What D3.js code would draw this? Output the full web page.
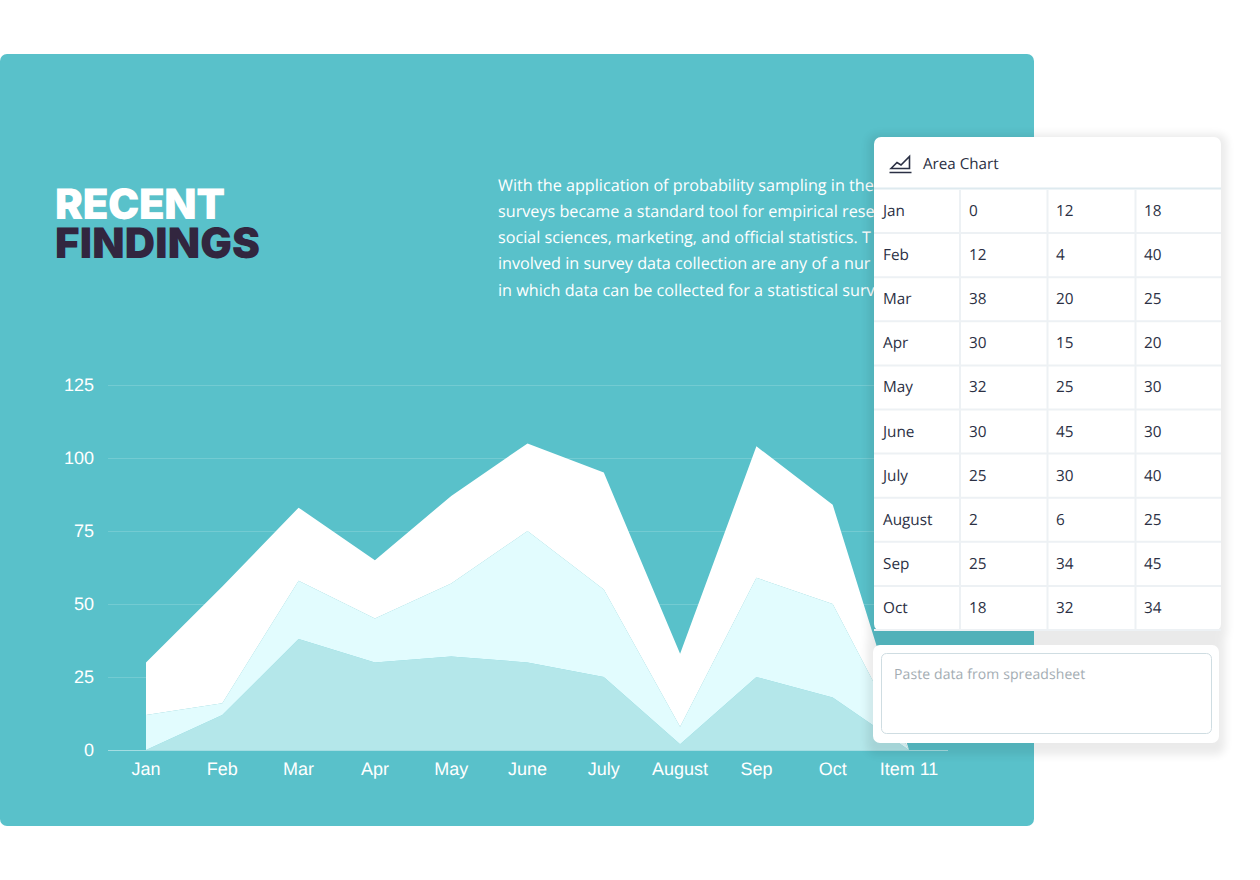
<!DOCTYPE html>
<html><head><meta charset="utf-8">
<script src="https://cdnjs.cloudflare.com/ajax/libs/d3/7.8.5/d3.min.js"></script>
<style>html,body{margin:0;padding:0;background:#fff}svg{display:block}text{text-rendering:geometricPrecision}</style>
</head><body><div id="c"></div>
<script>
const categories=["Jan","Feb","Mar","Apr","May","June","July","August","Sep","Oct","Item 11"];
const seriesA=[0,12,38,30,32,30,25,2,25,18,0];
const seriesB=[12,4,20,15,25,45,30,6,34,32,0];
const seriesC=[18,40,25,20,30,30,40,25,45,34,0];
const yTicks=[0,25,50,75,100,125];
const tableRows=10;
const paragraph=["With the application of probability sampling in the","surveys became a standard tool for empirical rese","social sciences, marketing, and official statistics. T","involved in survey data collection are any of a nur","in which data can be collected for a statistical surv"];
const titleLines=["RECENT","FINDINGS"];
const panelTitle="Area Chart";
const placeholder="Paste data from spreadsheet";

const TEAL="#59c1ca",NAVY="#32263f",INK="#2b3044";
const svg=d3.select("#c").append("svg").attr("width",1260).attr("height",880);
const defs=svg.append("defs");
defs.append("filter").attr("id","sh").attr("x","-20%").attr("y","-20%").attr("width","140%").attr("height","140%")
 .append("feGaussianBlur").attr("stdDeviation",4);

svg.append("rect").attr("x",0).attr("y",54).attr("width",1034).attr("height",772).attr("rx",7).attr("fill",TEAL);

svg.append("g").selectAll("text").data(titleLines).join("text")
 .attr("x",55).attr("y",(d,i)=>219+i*39).text(d=>d)
 .attr("font-family","Inter").attr("font-weight",900).attr("font-size",42)
 .attr("letter-spacing",(d,i)=>i?.2:-.4)
 .attr("fill",(d,i)=>i?NAVY:"#fff");

svg.append("g").selectAll("text").data(paragraph).join("text")
 .attr("x",498).attr("y",(d,i)=>190.5+i*26.3).text(d=>d)
 .attr("font-family","Open Sans").attr("font-size",16.2).attr("fill","#fff");

// chart
const x=d3.scalePoint().domain(categories).range([146,909]);
const y=d3.scaleLinear().domain([0,125]).range([750,385]);
const g=svg.append("g");
g.selectAll("line.g").data(yTicks).join("line").attr("class","g")
 .attr("x1",108).attr("x2",948).attr("y1",d=>y(d)+.5).attr("y2",d=>y(d)+.5)
 .attr("stroke","#fff").attr("stroke-opacity",d=>d?.16:.45);
g.selectAll("text.y").data(yTicks).join("text").attr("class","y")
 .attr("x",94).attr("y",d=>y(d)+6).attr("text-anchor","end").text(d=>d)
 .attr("font-family","Liberation Sans").attr("font-size",18).attr("fill","#fff");
g.selectAll("text.x").data(categories).join("text").attr("class","x")
 .attr("x",d=>x(d)).attr("y",775).attr("text-anchor","middle").text(d=>d)
 .attr("font-family","Liberation Sans").attr("font-size",18).attr("fill","#fff");
const rows=categories.map((c,i)=>({c,a:seriesA[i],b:seriesB[i],z:seriesC[i]}));
const stacked=d3.stack().keys(["a","b","z"])(rows);
const area=d3.area().x(d=>x(d.data.c)).y0(d=>y(d[0])).y1(d=>y(d[1]));
const fills=["#b4e7ea","#e2fcfe","#ffffff"];
g.selectAll("path.s").data(stacked).join("path").attr("class","s").attr("d",area).attr("fill",(d,i)=>fills[i]);

// shared soft shadow behind both panels
const sh=svg.append("g").attr("opacity",.08).attr("filter","url(#sh)");
sh.append("rect").attr("x",868).attr("y",134).attr("width",359).attr("height",508).attr("rx",9).attr("fill","#000");
sh.append("rect").attr("x",867).attr("y",634).attr("width",358).attr("height",121).attr("rx",9).attr("fill","#000");

// lower panel
const p2=svg.append("g");
p2.append("rect").attr("x",873).attr("y",645).attr("width",346).attr("height",98).attr("rx",7).attr("fill","#fff");
p2.append("rect").attr("x",881.5).attr("y",653.5).attr("width",330).attr("height",80).attr("rx",5).attr("fill","#fff").attr("stroke","#cfdde2");
p2.append("text").attr("x",894).attr("y",679).text(placeholder).attr("font-family","Open Sans").attr("font-size",14).attr("letter-spacing",.1).attr("fill","#a4adb3");

// table panel
const p=svg.append("g");
p.append("rect").attr("x",874).attr("y",137).attr("width",347).attr("height",494).attr("rx",7).attr("fill","#fff");
p.append("path").attr("d","M889.5 172.5H911.5M891 168.5L897 162.5L901 165L909.5 156.5V168.5Z").attr("fill","none").attr("stroke",INK).attr("stroke-width",1.6);
p.append("text").attr("x",923).attr("y",169).text(panelTitle).attr("font-family","Open Sans").attr("font-size",15.2).attr("fill",INK);
p.append("line").attr("x1",874).attr("x2",1221).attr("y1",188.5).attr("y2",188.5).attr("stroke","#deeaef").attr("stroke-width",2);
const rowY=d3.scaleBand().domain(d3.range(tableRows)).range([189,630]);
const colX=[883,969,1056,1144];
const colLines=[960,1047.5,1135.5];
p.selectAll("line.r").data(d3.range(1,tableRows+1)).join("line").attr("class","r")
 .attr("x1",874).attr("x2",1221).attr("y1",d=>189+d*rowY.step()).attr("y2",d=>189+d*rowY.step())
 .attr("stroke","#edf1f4").attr("stroke-width",2);
p.selectAll("line.c").data(colLines).join("line").attr("class","c")
 .attr("x1",d=>d).attr("x2",d=>d).attr("y1",190).attr("y2",631)
 .attr("stroke","#edf1f4").attr("stroke-width",2);
d3.range(tableRows).forEach(i=>{
 [categories[i],seriesA[i],seriesB[i],seriesC[i]].forEach((v,j)=>{
  p.append("text").attr("x",colX[j]).attr("y",rowY(i)+rowY.step()/2+5).text(v)
   .attr("font-family","Open Sans").attr("font-size",15.3).attr("fill",INK);
 });
});
</script></body></html>
